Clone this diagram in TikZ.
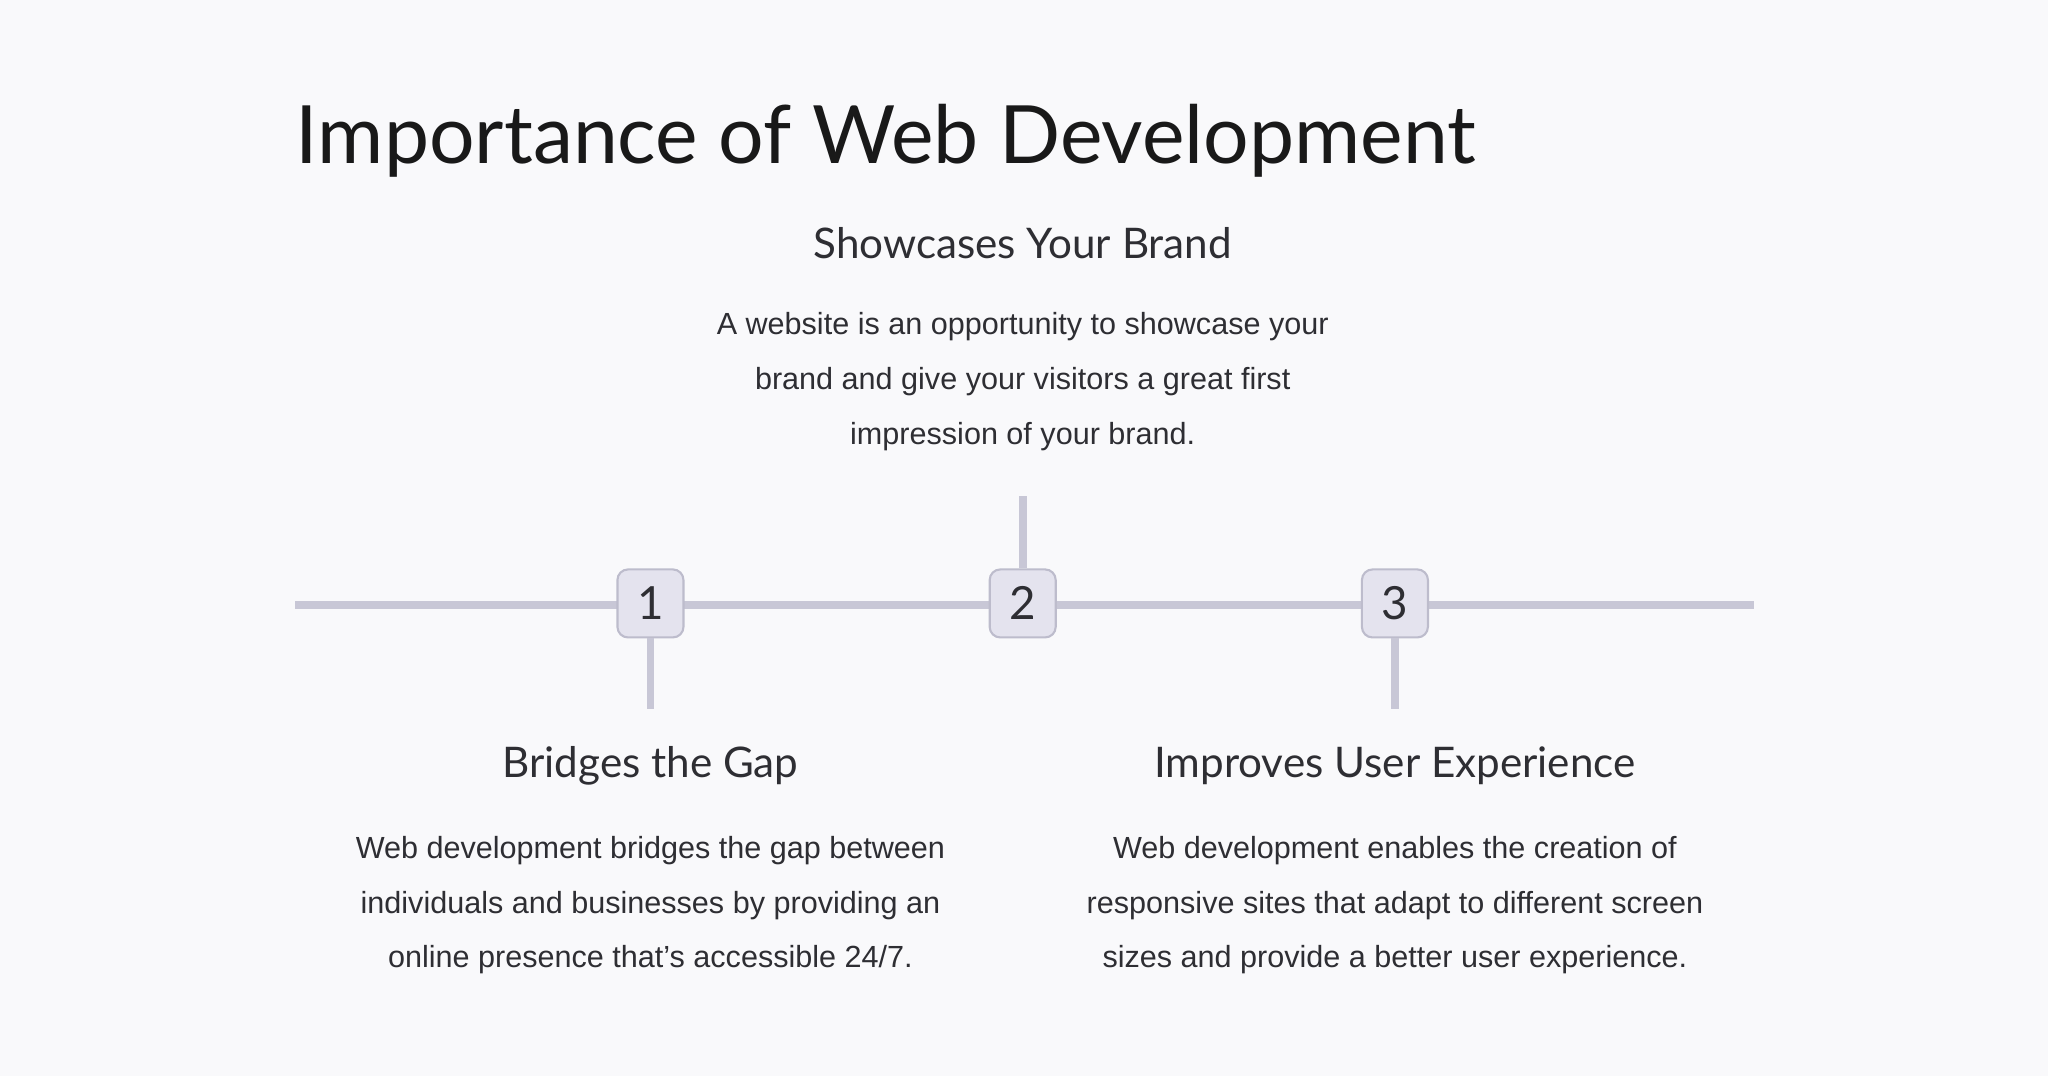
\documentclass[tikz,border=0pt]{standalone}
\usepackage{fontspec}
\setmainfont{Liberation Sans}
\newfontfamily\headfont{Lato}
\definecolor{bg}{HTML}{F9F9FB}
\definecolor{linec}{HTML}{C8C7D6}
\definecolor{boxf}{HTML}{E4E3EE}
\definecolor{boxd}{HTML}{BDBCCC}
\definecolor{txt}{HTML}{2E2E33}
\tikzset{
  numbox/.style={draw=boxd,fill=boxf,rounded corners=3pt,minimum width=0.66cm,minimum height=0.68cm,text=txt,font=\headfont\fontsize{13}{13}\selectfont,line width=0.6pt},
  tl/.style={draw=linec,line width=2.2pt},
  heading/.style={text=txt,font=\headfont\fontsize{12}{14}\selectfont},
  body/.style={text=txt,align=center,font=\fontsize{8.7}{15.6}\selectfont},
}
\begin{document}
\begin{tikzpicture}[x=0.01306cm,y=-0.01306cm]
\fill[bg] (0,0) rectangle (1568,824);
\useasboundingbox (0,0) rectangle (1568,824);
\node[anchor=base west,inner sep=0pt,text=black!90,font=\headfont\fontsize{22.9}{26}\selectfont] (title) at (226,125) {Importance of Web Development};
\coordinate (L) at (226,463);
\coordinate (R) at (1343,463);
\coordinate (s1) at (498,543);
\coordinate (s2) at (783,380);
\coordinate (s3) at (1068,543);
\draw[tl] (L) -- (R);
\node[numbox] (b1) at (498,462) {1};
\node[numbox] (b2) at (783,462) {2};
\node[numbox] (b3) at (1068,462) {3};
\draw[tl] (b1.south) -- (s1);
\draw[tl] (b2.north) -- (s2);
\draw[tl] (b3.south) -- (s3);
\node[heading] (h2) at (783,186) {Showcases Your Brand};
\node[body] (t2) at (783,292) {A website is an opportunity to showcase your\\brand and give your visitors a great first\\impression of your brand.};
\node[heading] (h1) at (498,586) {Bridges the Gap};
\node[body] (t1) at (498,693) {Web development bridges the gap between\\individuals and businesses by providing an\\online presence that's accessible 24/7.};
\node[heading] (h3) at (1068,586) {Improves User Experience};
\node[body] (t3) at (1068,693) {Web development enables the creation of\\responsive sites that adapt to different screen\\sizes and provide a better user experience.};
\end{tikzpicture}
\end{document}
